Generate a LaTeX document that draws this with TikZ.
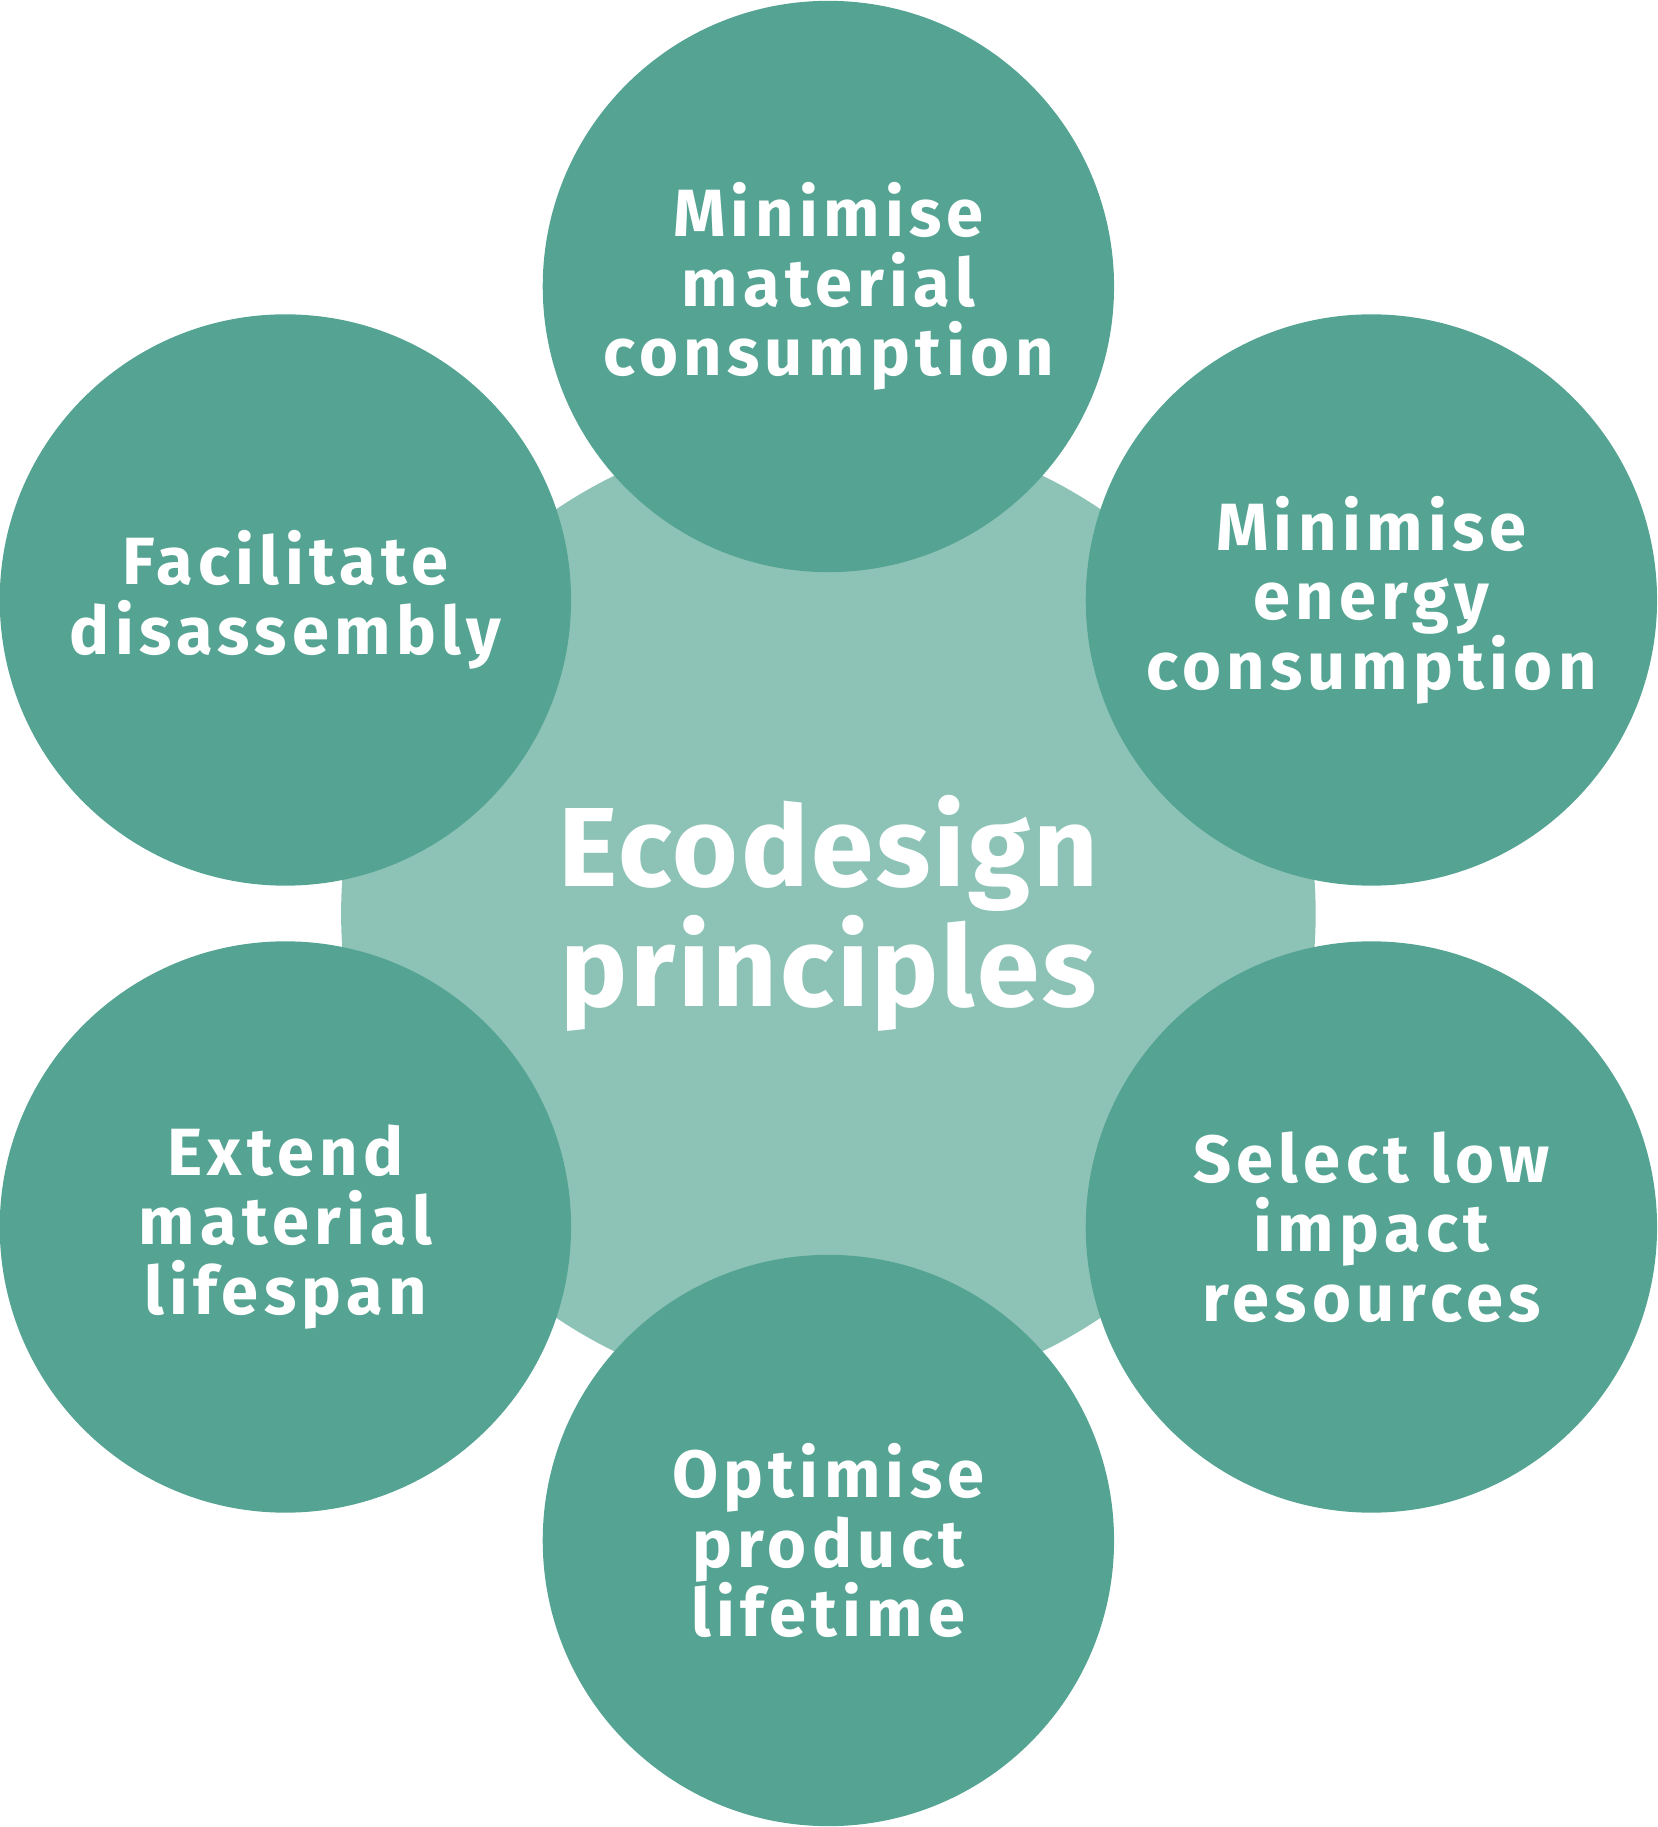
\documentclass[tikz,border=0pt]{standalone}
\usepackage{fontspec}
\setmainfont{Fira Sans}
\newfontfamily\hubfont{Fira Sans}[LetterSpace=2.5]
\newfontfamily\spokefont{Fira Sans}[LetterSpace=8]
\definecolor{tealdark}{HTML}{55A493}
\definecolor{teallight}{HTML}{8DC3B6}
\tikzset{
  hub/.style={circle, fill=teallight, minimum size=9.74cm, inner sep=0pt,
    text=white, align=center, font=\hubfont\bfseries\fontsize{32}{30.5}\selectfont},
  spoke/.style={circle, fill=tealdark, minimum size=5.71cm, inner sep=0pt,
    text=white, align=center, font=\spokefont\bfseries\fontsize{19}{19.8}\selectfont}
}
\begin{document}
\begin{tikzpicture}[x=0.01cm, y=0.01cm]
\useasboundingbox (-828.4,-913.5) rectangle (829.6,913.5);
%
\node[hub] (hub) at (0,0) {Ecodesign\\principles};
%
\node[spoke] (material) at (90:627) {Minimise\\material\\consumption};
\node[spoke] (energy) at (30:627) {Minimise\\energy\\consumption};
\node[spoke] (resources) at (-30:627) {Select low\\impact\\resources};
\node[spoke] (lifetime) at (-90:627) {Optimise\\product\\lifetime};
\node[spoke] (lifespan) at (-150:627) {Extend\\material\\lifespan};
\node[spoke] (disassembly) at (150:627) {Facilitate\\disassembly};
%
\end{tikzpicture}
\end{document}
